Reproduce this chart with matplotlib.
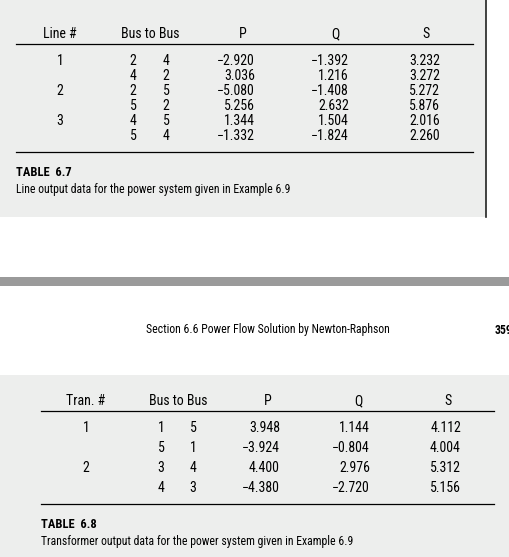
import matplotlib
matplotlib.use("Agg")
import matplotlib.pyplot as plt
from matplotlib.patches import Rectangle

FONT = ["Liberation Sans Narrow", "Roboto Condensed", "DejaVu Sans"]
plt.rcParams["font.family"] = FONT

# table 6.7 - line output data
line_ids = ["1", "", "2", "", "3", ""]
line_from = [2, 4, 2, 5, 4, 5]
line_to = [4, 2, 5, 2, 5, 4]
line_p = ["\u22122.920", "3.036", "\u22125.080", "5.256", "1.344", "\u22121.332"]
line_q = ["\u22121.392", "1.216", "\u22121.408", "2.632", "1.504", "\u22121.824"]
line_s = ["3.232", "3.272", "5.272", "5.876", "2.016", "2.260"]

# table 6.8 - transformer output data
tran_ids = ["1", "", "2", ""]
tran_from = [1, 5, 3, 4]
tran_to = [5, 1, 4, 3]
tran_p = ["3.948", "\u22123.924", "4.400", "\u22124.380"]
tran_q = ["1.144", "\u22120.804", "2.976", "\u22122.720"]
tran_s = ["4.112", "4.004", "5.312", "5.156"]

W, H = 509, 557
fig = plt.figure(figsize=(W / 100, H / 100), dpi=100)
ax = fig.add_axes([0, 0, 1, 1])
ax.set_xlim(0, W)
ax.set_ylim(H, 0)
ax.axis("off")

panel = "#edeeed"
ax.add_patch(Rectangle((0, 0), 486, 217, color=panel, lw=0))
ax.plot([486, 486], [0, 217], color="#222222", lw=1.2)
ax.add_patch(Rectangle((0, 277), W, 9, color="#9a9a9a", lw=0))
ax.add_patch(Rectangle((0, 375), W, H - 375, color=panel, lw=0))

fs = 10


def draw_table(ids, frm, to, p, q, s, id_label, hy, x0, x1, rows_y, cols, cap_y, title, caption):
    idx, b1, b2, px, qx, sx, hdr = cols
    ax.text(idx, hy, id_label, ha="center", va="center", fontsize=fs)
    ax.text(hdr[0], hy, "Bus to Bus", ha="center", va="center", fontsize=fs)
    ax.text(hdr[1], hy, "P", ha="center", va="center", fontsize=fs)
    ax.text(hdr[2], hy, "Q", ha="center", va="center", fontsize=fs)
    ax.text(hdr[3], hy, "S", ha="center", va="center", fontsize=fs)
    ax.plot([x0, x1], [hy + 10, hy + 10], color="black", lw=0.9)
    for i, y in enumerate(rows_y):
        ax.text(idx, y, ids[i], ha="center", va="center", fontsize=fs)
        ax.text(b1, y, str(frm[i]), ha="center", va="center", fontsize=fs)
        ax.text(b2, y, str(to[i]), ha="center", va="center", fontsize=fs)
        ax.text(px, y, p[i], ha="right", va="center", fontsize=fs)
        ax.text(qx, y, q[i], ha="right", va="center", fontsize=fs)
        ax.text(sx, y, s[i], ha="right", va="center", fontsize=fs)
    ax.plot([x0, x1], [cap_y - 20, cap_y - 20], color="black", lw=0.9)
    ax.text(x0, cap_y, title, ha="left", va="center", fontsize=9, fontweight="bold")
    ax.text(x0, cap_y + 18, caption, ha="left", va="center", fontsize=8.5)


draw_table(line_ids, line_from, line_to, line_p, line_q, line_s, "Line #", 34, 16, 473,
           [61, 76, 91, 106, 121, 136], (60, 133, 166, 255, 349, 440, (150, 243, 335, 426)),
           172, "TABLE  6.7", "Line output data for the power system given in Example 6.9")

draw_table(tran_ids, tran_from, tran_to, tran_p, tran_q, tran_s, "Tran. #", 401, 41, 494,
           [428, 448, 468, 488], (86, 161, 193, 280, 370, 461, (178, 268, 358, 448)),
           524, "TABLE  6.8", "Transformer output data for the power system given in Example 6.9")

ax.text(268, 330, "Section 6.6 Power Flow Solution by Newton-Raphson", ha="center", va="center", fontsize=8.5)
ax.text(495, 330, "359", ha="left", va="center", fontsize=8.5, fontweight="bold", clip_on=True)

fig.savefig("out.png", dpi=100)
